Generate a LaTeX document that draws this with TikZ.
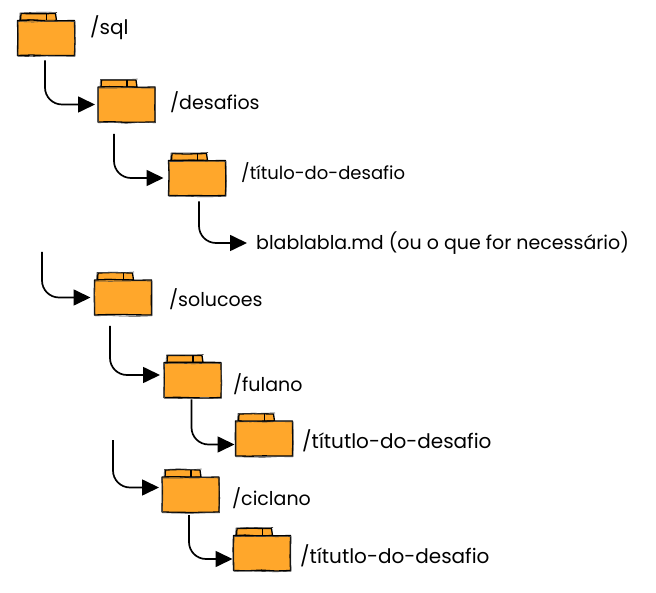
\documentclass[tikz,border=0pt]{standalone}
\usepackage{fontspec}
\setmainfont{Poppins}
\usetikzlibrary{arrows.meta,decorations.pathmorphing,calc}
\pgfmathsetseed{42}
\tikzset{
  x=1pt,y=-1pt,
  sk/.style={decorate,decoration={random steps,segment length=14pt,amplitude=.55pt}},
  folderbody/.style={draw=none,fill=folderfill,minimum width=57pt,minimum height=35pt,inner sep=0pt,outer sep=0pt},
  ink/.style={draw=black,line width=1.3pt,line join=round},
  ink2/.style={draw=black!75,line width=.6pt,line join=round},
  lbl/.style={anchor=west,inner sep=0pt,font=\fontsize{19}{22}\selectfont,text=black},
  longlbl/.style={lbl,font=\fontsize{20}{22}\selectfont},
  conn/.style={draw=black,line width=1.7pt,rounded corners=17pt,-{Triangle[length=17pt,width=16pt]}},
}
\definecolor{folderfill}{HTML}{FFA72B}
\newcommand{\folder}[3]{%
  \filldraw[ink,fill=folderfill,sk] (#2-25.5,#3-17.5) -- (#2-25,#3-24.5) -- (#2+9.5,#3-24.5) -- (#2+10.5,#3-17.5) -- cycle;
  \draw[ink2,sk] (#2-26.5,#3-18) -- (#2-26,#3-25) -- (#2+11,#3-25.5);
  \draw[ink] (#2+0.5,#3-24.5) -- (#2+0.5,#3-17.5);
  \node[folderbody] (#1) at (#2,#3) {};
  \draw[ink,sk] (#2-28.5,#3-17.5) rectangle (#2+28.5,#3+17.5);
  \draw[ink2,sk] (#2-28,#3-16.5) rectangle (#2+29,#3+18.3);
}
% connector: start point, end point (named coordinates)
\newcommand{\link}[2]{\draw[conn] (#1) -- (#1 |- #2) -- (#2);}
\begin{document}
\begin{tikzpicture}
\useasboundingbox (0,0) rectangle (656,593);
\folder{sql}{46}{38}
\folder{desafios}{126.5}{104.5}
\folder{titulo}{197}{178}
\folder{solucoes}{123}{297.5}
\folder{fulano}{192.5}{380}
\folder{titA}{264}{438.5}
\folder{ciclano}{190.5}{494.5}
\folder{titB}{262}{553}

\node[longlbl] (lsql) at (90,28) {/sql};
\node[lbl] (ldesafios) at (170,102) {/desafios};
\node[lbl,font=\fontsize{18}{22}\selectfont] (ltitulo) at (241,173) {/título-do-desafio};
\node[lbl] (blabla) at (256,243) {blablabla.md (ou o que for necessário)};
\node[lbl] (lsolucoes) at (169,299) {/solucoes};
\node[lbl] (lfulano) at (233,384) {/fulano};
\node[longlbl] (ltitA) at (302,441) {/títutlo-do-desafio};
\node[lbl] (lciclano) at (232,498) {/ciclano};
\node[longlbl] (ltitB) at (300,556) {/títutlo-do-desafio};

\coordinate (freeA) at (42,252);
\coordinate (freeB) at (113,440);

\coordinate (s1) at ($(sql.south)+(-1,5)$);
\coordinate (e1) at ($(desafios.west)+(-3,0)$);
\coordinate (s2) at ($(desafios.south)+(-12.5,12)$);
\coordinate (e2) at ($(titulo.west)+(-5,0)$);
\coordinate (s3) at ($(titulo.south)+(2,6)$);
\coordinate (e3) at ($(blabla.west)+(-9,0)$);
\coordinate (e4) at ($(solucoes.west)+(-4,0)$);
\coordinate (s5) at ($(solucoes.south)+(-13,11)$);
\coordinate (e5) at ($(fulano.west)+(-4,-5)$);
\coordinate (s6) at ($(fulano.south)+(-1,2)$);
\coordinate (e6) at ($(titA.west)+(-1,6)$);
\coordinate (e7) at ($(ciclano.west)+(-3,-7)$);
\coordinate (s8) at ($(ciclano.south)+(-1.5,3)$);
\coordinate (e8) at ($(titB.west)+(-1,6)$);

\link{s1}{e1}
\link{s2}{e2}
\link{s3}{e3}
\link{freeA}{e4}
\link{s5}{e5}
\link{s6}{e6}
\link{freeB}{e7}
\link{s8}{e8}
\end{tikzpicture}
\end{document}
